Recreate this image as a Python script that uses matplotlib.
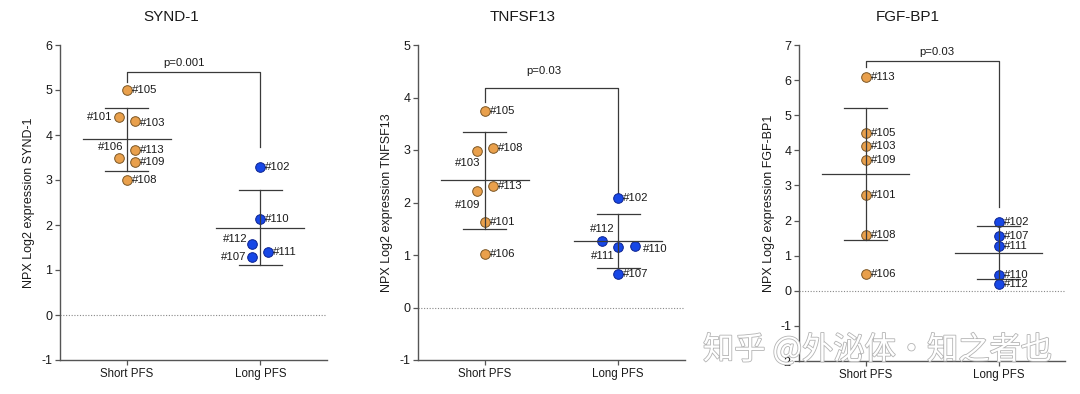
import matplotlib
matplotlib.use("Agg")
import matplotlib.pyplot as plt
import matplotlib.patheffects as pe
import numpy as np

plt.rcParams['font.family'] = ['Liberation Sans', 'DejaVu Sans']
plt.rcParams['axes.unicode_minus'] = False

groups = ["Short PFS", "Long PFS"]

# SYND-1
synd_short_ids = ["#105", "#101", "#103", "#113", "#106", "#109", "#108"]
synd_short = [5.00, 4.41, 4.32, 3.67, 3.50, 3.41, 3.00]
synd_long_ids = ["#102", "#110", "#112", "#111", "#107"]
synd_long = [3.30, 2.14, 1.58, 1.41, 1.29]

# TNFSF13
tnf_short_ids = ["#105", "#108", "#103", "#113", "#109", "#101", "#106"]
tnf_short = [3.75, 3.04, 2.99, 2.31, 2.22, 1.62, 1.02]
tnf_long_ids = ["#102", "#112", "#111", "#110", "#107"]
tnf_long = [2.09, 1.27, 1.15, 1.18, 0.64]

# FGF-BP1
fgf_short_ids = ["#113", "#105", "#103", "#109", "#101", "#108", "#106"]
fgf_short = [6.10, 4.49, 4.13, 3.72, 2.74, 1.59, 0.48]
fgf_long_ids = ["#102", "#107", "#111", "#110", "#112"]
fgf_long = [1.97, 1.57, 1.28, 0.45, 0.18]

p_texts = ["p=0.001", "p=0.03", "p=0.03"]

ORANGE = "#E9A04C"
ORANGE_EDGE = "#7a5524"
BLUE = "#1747E6"
BLUE_EDGE = "#0b2290"
LINE = "#3a3a3a"

fig = plt.figure(figsize=(10.8, 3.94), dpi=100)


def labs_or(labs, n):
    return [labs.get(i, (5, 0, "left")) for i in range(n)]


def panel(rect, title, ylabel, short, short_ids, long, long_ids,
          ylim, jit_s, jit_l, lab_s, lab_l, bracket, ptext, title_x):
    ax = fig.add_axes(rect)
    ax.set_xlim(-0.5, 1.5)
    ax.set_ylim(*ylim)
    ax.axhline(0, color="#888888", lw=0.8, ls=(0, (1, 1.5)), zorder=1)

    for gi, (vals, ids, jit, labs, fc, ec) in enumerate([
            (short, short_ids, jit_s, labs_or(lab_s, len(short)), ORANGE, ORANGE_EDGE),
            (long, long_ids, jit_l, labs_or(lab_l, len(long)), BLUE, BLUE_EDGE)]):
        xs = gi + np.array(jit)
        ax.scatter(xs, vals, s=48, facecolor=fc, edgecolor=ec, linewidth=0.7, zorder=3)
        m = np.mean(vals)
        sd = np.std(vals, ddof=1)
        ax.plot([gi - 0.33, gi + 0.33], [m, m], color=LINE, lw=0.9, zorder=4)
        ax.plot([gi - 0.16, gi + 0.16], [m + sd, m + sd], color=LINE, lw=0.9, zorder=4)
        ax.plot([gi - 0.16, gi + 0.16], [m - sd, m - sd], color=LINE, lw=0.9, zorder=4)
        ax.plot([gi, gi], [m - sd, m + sd], color=LINE, lw=0.9, zorder=4)
        for x, y, t, (dx, dy, ha) in zip(xs, vals, ids, labs):
            ax.annotate(t, (x, y), xytext=(dx, dy), textcoords="offset pixels",
                        ha=ha, va="center", fontsize=8.2, color="#1a1a1a", zorder=5)

    top, ld, rd = bracket
    ax.plot([0, 0, 1, 1], [ld, top, top, rd], color=LINE, lw=0.9, zorder=2)
    ax.text(ptext[0], ptext[1], ptext[2], ha="center", va="center", fontsize=8.2,
            color="#1a1a1a")

    ax.set_yticks(np.arange(ylim[0], ylim[1] + 1))
    ax.set_xticks([0, 1])
    ax.set_xticklabels(groups)
    ax.tick_params(axis="both", direction="out", length=3.5, width=0.9,
                   color="#555555", pad=2, labelcolor="#1a1a1a")
    ax.tick_params(axis="y", labelsize=9)
    ax.tick_params(axis="x", labelsize=8.3)
    for s in ["top", "right"]:
        ax.spines[s].set_visible(False)
    for s in ["left", "bottom"]:
        ax.spines[s].set_color("#555555")
        ax.spines[s].set_linewidth(1.0)
    ax.set_ylabel(ylabel, fontsize=9, color="#1a1a1a")
    ax.yaxis.set_label_coords(-0.092, 0.5)
    ax.set_title(title, fontsize=11, x=title_x, pad=17, color="#1a1a1a")
    return ax


bottom = 1 - 360 / 394
height = 315 / 394

panel([60 / 1080, bottom, 267 / 1080, height], "SYND-1",
      "NPX Log2 expression SYND-1",
      synd_short, synd_short_ids, synd_long, synd_long_ids,
      (-1, 6),
      [0, -0.06, 0.06, 0.06, -0.06, 0.06, 0],
      [0, 0, -0.06, 0.06, -0.06],
      {1: (-6, 0, "right"), 2: (5, -2, "left"), 4: (5, 10, "right")},
      {2: (-5, 5, "right"), 4: (-6, 0, "right")},
      (5.40, 5.18, 3.74), (0.43, 5.6, p_texts[0]), 0.416)

panel([418 / 1080, bottom, 267 / 1080, height], "TNFSF13",
      "NPX Log2 expression TNFSF13",
      tnf_short, tnf_short_ids, tnf_long, tnf_long_ids,
      (-1, 5),
      [0, 0.06, -0.06, 0.06, -0.06, 0, 0],
      [0, -0.125, 0, 0.125, 0],
      {2: (4, -12, "right"), 4: (4, -14, "right")},
      {1: (1, 12, "center"), 2: (-4, -9, "right"), 3: (8, -3, "left")},
      (4.19, 3.91, 2.16), (0.44, 4.51, p_texts[1]), 0.39)

panel([799 / 1080, 1 - 361 / 394, 266 / 1080, 316 / 394], "FGF-BP1",
      "NPX Log2 expression FGF-BP1",
      fgf_short, fgf_short_ids, fgf_long, fgf_long_ids,
      (-2, 7),
      [0] * 7, [0] * 5, {}, {},
      (6.55, 6.38, 2.38), (0.537, 6.8, p_texts[2]), 0.41)

fig.text(703 / 1080, 1 - 350 / 394, "知乎 @外泌体·知之者也", fontsize=22.5,
         family=["Noto Sans CJK SC", "DejaVu Sans"], color="white",
         ha="left", va="center", zorder=10,
         path_effects=[pe.withStroke(linewidth=1.2, foreground="#b4b4b4")])

fig.savefig("out.png", dpi=100)
